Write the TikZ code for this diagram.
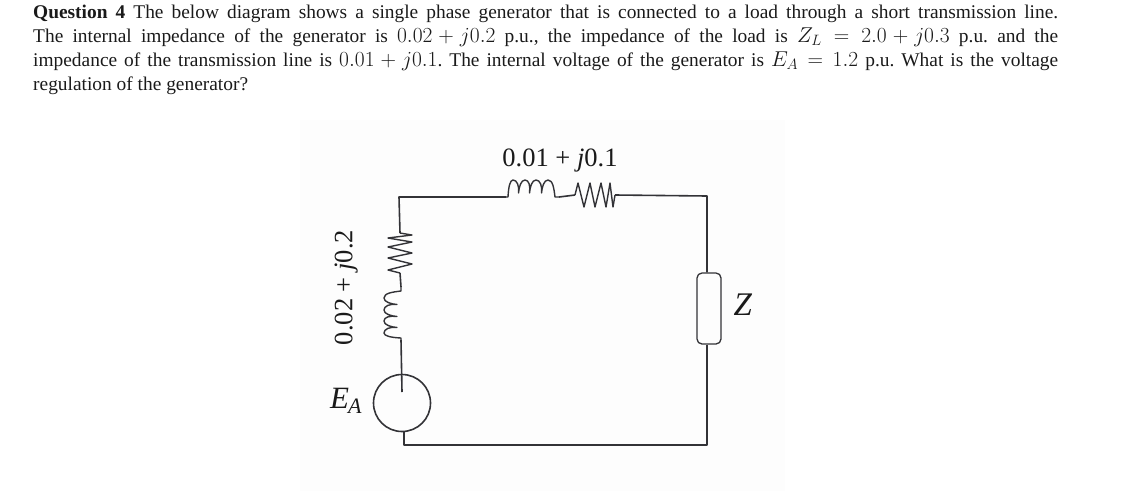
\RequirePackage{fix-cm}
\documentclass[tikz,border=0pt]{standalone}
\usepackage[no-math]{fontspec}
\setmainfont{Liberation Serif}
\DeclareMathSizes{19.4}{21.5}{15}{11}
\definecolor{wirecol}{HTML}{333337}
\definecolor{inkcol}{HTML}{1A1A1A}
\definecolor{panelcol}{HTML}{FDFDFD}
\tikzset{
  x=1pt,y=1pt,
  wire/.style={draw=wirecol,line width=1.6pt,line join=round},
  lbl/.style={inner sep=0pt,text=inkcol,font=\fontsize{26.5}{30}\selectfont},
  pics/coil/.style={code={
    \draw[wire,line width=1.4pt] (0,0) -- (2,0) .. controls (2.5,10) and (4,17) .. (7,17)
      .. controls (11,17) and (13.5,11) .. (12.5,4)
      .. controls (13,10) and (15,17) .. (19,17)
      .. controls (23,17) and (24.5,11) .. (23.5,4)
      .. controls (24,10) and (26,17) .. (30,17)
      .. controls (34,17) and (36.5,11) .. (35.5,4)
      .. controls (36,10) and (38,17) .. (42,17)
      .. controls (47,17) and (48,8) .. (49,0) -- (53,0);
  }},
  pics/zigzag/.style={code={
    \draw[wire,line width=1.4pt] (0,0) -- (3,12) -- (9,-12) -- (15,12) -- (20,-12) -- (26,12) -- (31,-12) -- (35,12) -- (38,-12) -- (40,0);
  }}
}
\begin{document}
\begin{tikzpicture}
\useasboundingbox (0,-491) rectangle (1125,0);
\fill[panelcol] (300,-120) rectangle (785,-491);
\node[anchor=north west,inner sep=0pt,text width=1025pt,align=justify,text=inkcol,
      font=\fontsize{19.4}{24}\selectfont] (question) at (33,-4.5) {%
\frenchspacing\medmuskip=5mu\relax\thickmuskip=8mu\relax
\textbf{Question 4} The below diagram shows a single phase generator that is connected to a load through a short transmission line.\linebreak
The internal impedance of the generator is $0.02+j0.2$ p.u., the impedance of the load is $Z_L\mskip2mu=\mskip2mu 2.0+j0.3$ p.u. and the\linebreak
impedance of the transmission line is $0.01+j0.1$. The internal voltage of the generator is $E_A=1.2$ p.u. What is the voltage\linebreak
regulation of the generator?\par};

% generator and load
\node[circle,wire,minimum size=57pt,inner sep=0pt] (gen) at (402,-403) {};
\coordinate (genin) at (402,-392);
\node[rectangle,wire,line width=1.3pt,rounded corners=5pt,minimum width=24pt,minimum height=71pt,inner sep=0pt] (load) at (709,-308.5) {};

% series elements, as named end points
\coordinate (lcb) at (401,-340);
\coordinate (lct) at (401,-287);
\coordinate (lrb) at (400,-273);
\coordinate (lrt) at (400,-233);
\coordinate (tcl) at (506,-197);
\coordinate (tcr) at (559,-197);
\coordinate (trl) at (575,-195);
\coordinate (trr) at (615,-195);
\coordinate (cnl) at (399,-197);
\coordinate (cnr) at (707,-196);
\coordinate (bl) at (404,-445);
\coordinate (br) at (707,-445);

\pic[rotate=90] at (lcb) {coil};
\pic[rotate=90] at (lrb) {zigzag};
\pic at (tcl) {coil};
\pic at (trl) {zigzag};

% connectors
\draw[wire] (genin) -- (lcb);
\draw[wire] (lct) -- (lrb);
\draw[wire] (lrt) -- (cnl) -- (tcl);
\draw[wire] (tcr) -- (trl);
\draw[wire] (trr) -- (cnr) -- (cnr |- load.north);
\draw[wire] (cnr |- load.south) -- (br) -- (bl) -- (bl |- gen.south);

% labels
\node[lbl] (ltop) at (560,-160.5) {0.01 + \textit{j}0.1};
\node[lbl,rotate=90] (lleft) at (346.5,-287.5) {0.02 + \textit{j}0.2};
\node[lbl,anchor=base west] (lea) at (330,-408) {\fontsize{31}{32}\selectfont\textit{E}\kern-1pt\raisebox{-5pt}{\fontsize{22}{22}\selectfont\textit{A}}};
\node[lbl,font=\fontsize{33}{34}\selectfont] (lz) at (743,-305) {\textit{Z}};
\end{tikzpicture}
\end{document}
